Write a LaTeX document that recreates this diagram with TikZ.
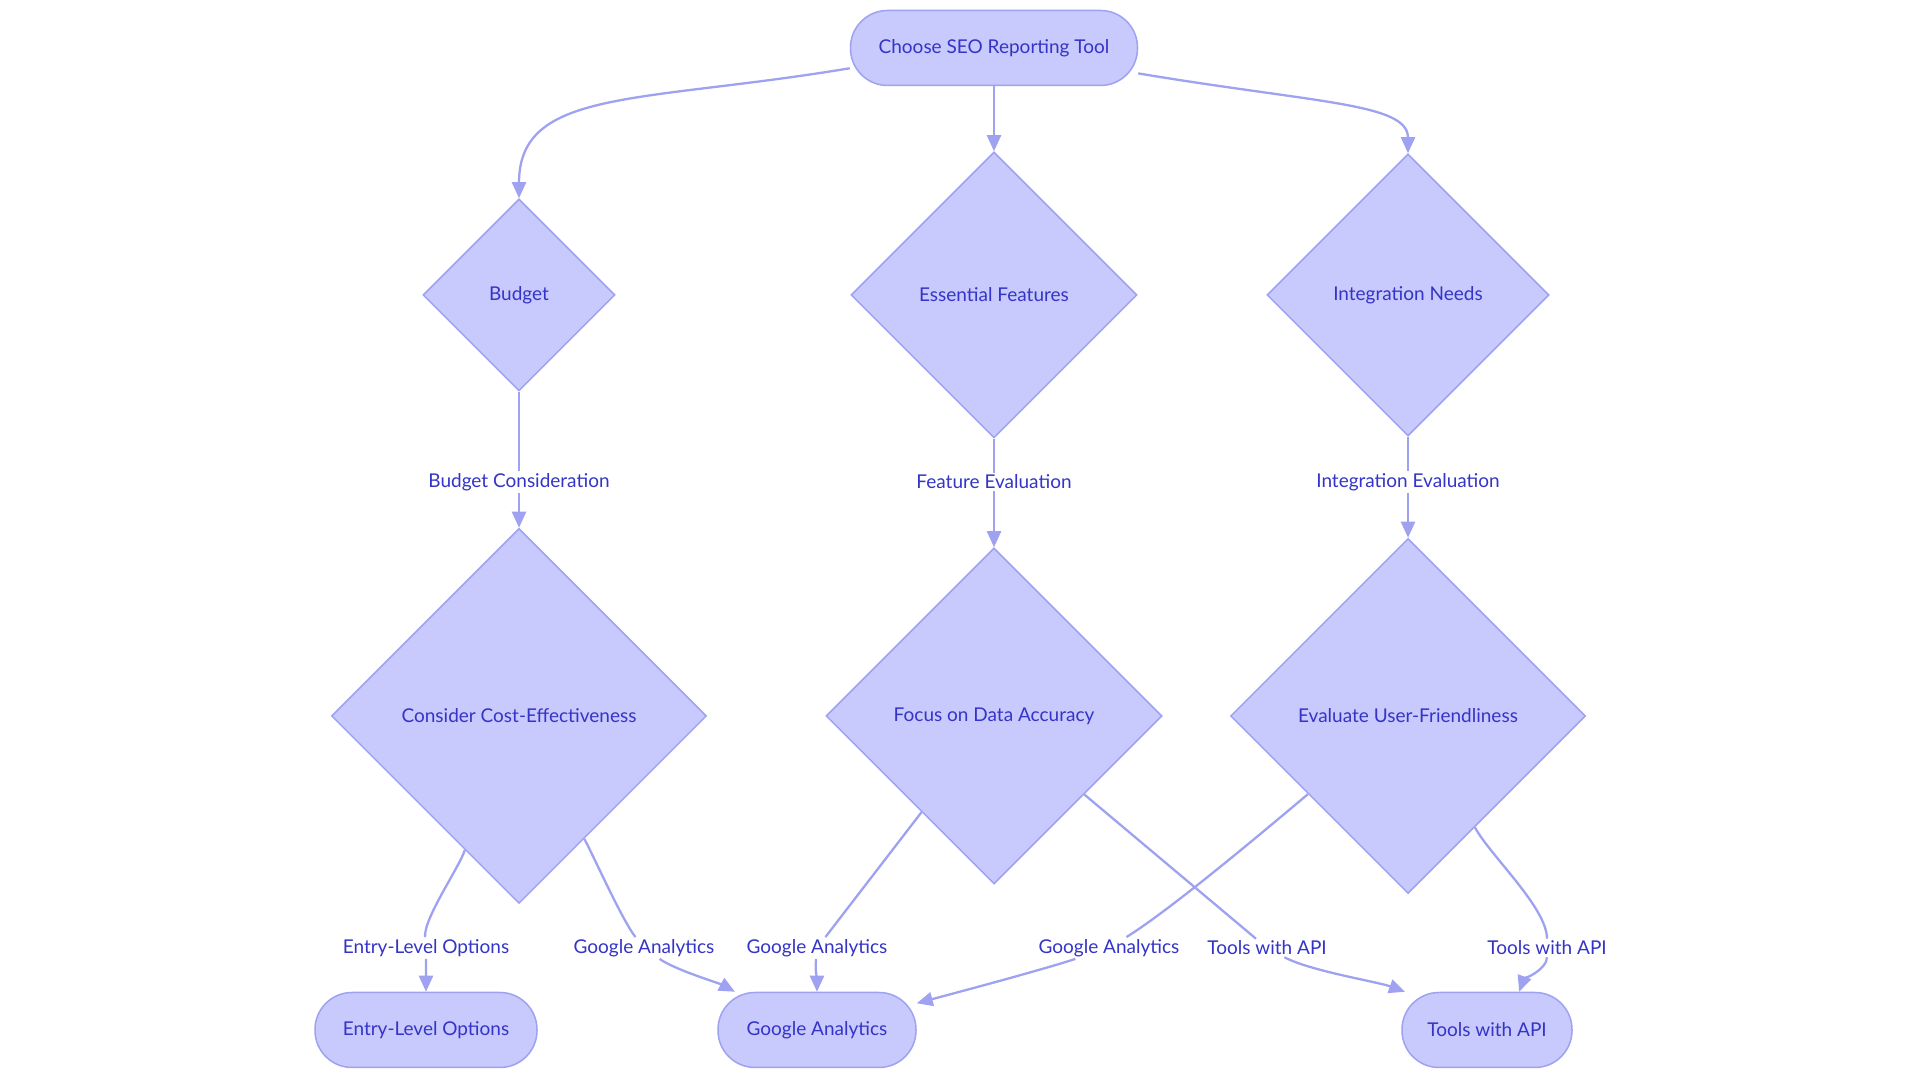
\documentclass[tikz,border=0pt]{standalone}
\usepackage{fontspec}
\setmainfont{Lato}
\usetikzlibrary{arrows.meta,shapes.geometric}
\definecolor{nfill}{RGB}{200,201,252}
\definecolor{nline}{RGB}{158,162,240}
\definecolor{ntext}{RGB}{52,52,200}
\begin{document}
\begin{tikzpicture}[x=1pt,y=1pt,font=\fontsize{19}{22}\selectfont,
 term/.style={rectangle,rounded corners=37pt,draw=nline,line width=1.5pt,fill=nfill,text=ntext,minimum height=75pt},
 dec/.style={diamond,aspect=1,draw=nline,line width=1.5pt,fill=nfill,text=ntext,inner sep=0pt},
 lbl/.style={fill=white,text=ntext,inner sep=2pt},
 arr/.style={-{Triangle[length=16pt,width=14pt]},line width=2.3pt,draw=nline}]
\useasboundingbox (0,0) rectangle (1920,1083);
\node[term,minimum width=287pt] (top) at (994,1035) {Choose SEO Reporting Tool};
\node[dec,minimum size=192pt] (budget) at (519,788) {Budget};
\node[dec,minimum size=286pt] (feat) at (994,788) {Essential Features};
\node[dec,minimum size=282pt] (integ) at (1408,788) {Integration Needs};
\node[dec,minimum size=375pt] (cost) at (519,367) {Consider Cost-Effectiveness};
\node[dec,minimum size=336pt] (accur) at (994,367) {Focus on Data Accuracy};
\node[dec,minimum size=355pt] (user) at (1408,367) {Evaluate User-Friendliness};
\node[term,minimum width=222pt] (entry) at (426,53) {Entry-Level Options};
\node[term,minimum width=198pt] (ga) at (817,53) {Google Analytics};
\node[term,minimum width=170pt] (api) at (1487,53) {Tools with API};
% edge labels
\node[lbl] (lbud) at (519,601) {Budget Consideration};
\node[lbl] (lfeat) at (994,601) {Feature Evaluation};
\node[lbl] (lint) at (1408,601) {Integration Evaluation};
\node[lbl] (lentry) at (426,135) {Entry-Level Options};
\node[lbl] (lgaa) at (644,135) {Google Analytics};
\node[lbl] (lgab) at (817,135) {Google Analytics};
\node[lbl] (lgac) at (1109,135) {Google Analytics};
\node[lbl] (lapia) at (1267,135) {Tools with API};
\node[lbl] (lapib) at (1547,135) {Tools with API};
% connectors
\draw[arr] (top.188) .. controls +(-210,-35) and +(0,110) .. (budget.north);
\draw[arr] (top.south) -- (feat.north);
\draw[arr] (top.-10) .. controls +(180,-30) and +(0,50) .. (integ.north);
\draw[arr] (budget.south) -- (lbud) -- (cost.north);
\draw[arr] (feat.south) -- (lfeat) -- (accur.north);
\draw[arr] (integ.south) -- (lint) -- (user.north);
\draw[arr] (cost.-112) to[out=-108,in=95,looseness=0.5] (lentry) -- (entry.north);
\draw[arr] (cost.-62) to[out=-62,in=128,looseness=0.5] (lgaa) to[out=-35,in=152,looseness=0.6] (ga.155);
\draw[arr] (accur.-127) -- (lgab) to[out=-95,in=90] (ga.north);
\draw[arr] (accur.-41) -- (lapia) to[out=-28,in=160,looseness=0.6] (api.155);
\draw[arr] (user.-142) to[out=-140,in=32,looseness=0.6] (lgac) to[out=-162,in=15,looseness=0.6] (ga.15);
\draw[arr] (user.-59) to[out=-62,in=90,looseness=0.6] (lapib) to[out=-90,in=70,looseness=0.7] (api.50);
\end{tikzpicture}
\end{document}
